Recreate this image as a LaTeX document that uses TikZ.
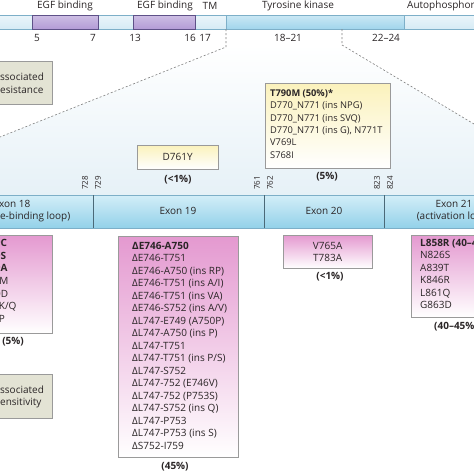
\documentclass[tikz,border=0pt]{standalone}
\usepackage{fontspec}
\setmainfont{Open Sans}
\usepackage{tikz}
\usetikzlibrary{positioning}
\definecolor{barpale}{HTML}{D6EBF5}
\definecolor{barline}{HTML}{7DAFC8}
\definecolor{kinase}{HTML}{A1D5EC}
\definecolor{egfpurple}{HTML}{B39CD6}
\definecolor{egfline}{HTML}{5E5188}
\definecolor{exontop}{HTML}{D3EEF8}
\definecolor{exonmid}{HTML}{93D1E9}
\definecolor{mutpink}{HTML}{E499D0}
\definecolor{mutyellow}{HTML}{FBF2BC}
\definecolor{assocgray}{HTML}{E3E3D4}
\definecolor{boxline}{HTML}{9A9A9A}
\definecolor{ink}{HTML}{2A2526}
\definecolor{wedgeblue}{HTML}{E6F1F7}
\tikzset{
  lbl/.style={font=\fontsize{10}{12}\selectfont, text=ink, inner sep=0pt},
  boldlbl/.style={font=\fontsize{10}{12}\selectfont\bfseries, text=ink, inner sep=0pt},
  resid/.style={font=\fontsize{8}{9}\selectfont, text=ink, rotate=90, inner sep=0pt},
  mutlist/.style={font=\fontsize{10}{12.5}\selectfont, text=ink, align=left, inner sep=0pt, anchor=north west},
  pinkbox/.style={draw=boxline, top color=mutpink, bottom color=white, anchor=north west, inner sep=0pt},
  yellowbox/.style={draw=boxline, top color=mutyellow, bottom color=white, anchor=north west, inner sep=0pt},
  graybox/.style={draw=boxline, fill=assocgray, anchor=north west, inner sep=0pt},
  guide/.style={gray, line width=0.6pt, dash pattern=on 2pt off 2pt},
}
\begin{document}
\begin{tikzpicture}[x=1pt,y=-1pt]
    \useasboundingbox (0,0) rectangle (474,474);
    \clip (0,0) rectangle (474,474);
    \fill[white] (0,0) rectangle (474,474);
    \shade[top color=white, bottom color=wedgeblue] (0,137) -- (226,47) -- (342,45) -- (474,124) -- (474,195) -- (0,195) -- cycle;

    \shade[top color=barpale!50!white, bottom color=barpale, draw=barline] (-2,15) rectangle (476,29);
    \shade[top color=egfpurple!65!white, bottom color=egfpurple, draw=egfline] (32,15) rectangle (98,29);
    \shade[top color=egfpurple!65!white, bottom color=egfpurple, draw=egfline] (133,15) rectangle (195,29);
    \shade[top color=kinase!55!white, bottom color=kinase, draw=barline] (226,15) rectangle (404,29);
    \node[lbl] (egfa) at (65,6) {EGF binding};
    \node[lbl] (egfb) at (165,6) {EGF binding};
    \node[lbl] (tm) at (210,6) {TM};
    \node[lbl] (tk) at (298,6) {Tyrosine kinase};
    \node[lbl, anchor=west] (autoph) at (407,6) {Autophosphorylation};
    \node[lbl] (ex5) at (37,38) {5};
    \node[lbl] (ex7) at (93,38) {7};
    \node[lbl] (ex13) at (135,38) {13};
    \node[lbl] (ex16) at (190,38) {16};
    \node[lbl] (ex17) at (205,38) {17};
    \node[lbl] (ex1821) at (288,38) {18–21};
    \node[lbl] (ex2224) at (386,38) {22–24};

    \coordinate (tkleft) at (226,29);
    \coordinate (tkright) at (342,29);
    \coordinate (zoomleft) at (0,137);
    \coordinate (zoomright) at (474,124);
    \draw[guide] (tkleft) -- ++(0,18) -- (zoomleft);
    \draw[guide] (tkright) -- ++(0,16) -- (zoomright);

    \node[graybox, minimum width=56pt, minimum height=43pt] (resist) at (-4,61) {};
    \node[lbl, anchor=west] (resista) at (0,77) {ssociated};
    \node[lbl, anchor=west] (resistb) at (0,90) {esistance};
    \node[graybox, minimum width=56pt, minimum height=44pt] (sensit) at (-4,374) {};
    \node[lbl, anchor=west] (sensita) at (0,390) {ssociated};
    \node[lbl, anchor=west] (sensitb) at (0,403) {ensitivity};

    \node[yellowbox, minimum width=81pt, minimum height=24pt] (d761box) at (137,145) {};
    \node[lbl] (d761) at (d761box.center) {D761Y};
    \node[boldlbl] (d761pc) at (178,180) {(<1\%)};
    \node[yellowbox, minimum width=125pt, minimum height=85pt] (t790box) at (265,83) {};
    \node[mutlist, font=\fontsize{9.3}{12.4}\selectfont] (t790) at (270,89) {\textbf{T790M (50\%)*}\\D770\_N771 (ins NPG)\\D770\_N771 (ins SVQ)\\D770\_N771 (ins G), N771T\\V769L\\S768I};
    \node[boldlbl] (t790pc) at (327,177) {(5\%)};

    \shade[top color=exontop, bottom color=exonmid, draw=barline] (-2,195) rectangle (476,228);
    \draw[barline!60!black] (93,195) -- (93,228);
    \draw[barline!60!black] (264,195) -- (264,228);
    \draw[barline!60!black] (384,195) -- (384,228);
    \node[lbl, align=center] (exon18) at (12,211) {Exon 18\\(nucleotide-binding loop)};
    \node[lbl] (exon19) at (178,211) {Exon 19};
    \node[lbl] (exon20) at (324,211) {Exon 20};
    \node[lbl, align=center] (exon21) at (454,211) {Exon 21\\(activation loop)};
    \node[resid] (r728) at (85,183) {728};
    \node[resid] (r729) at (98,183) {729};
    \node[resid] (r761) at (257,183) {761};
    \node[resid] (r762) at (270,183) {762};
    \node[resid] (r823) at (377,183) {823};
    \node[resid] (r824) at (390,183) {824};

    \node[pinkbox, minimum width=56pt, minimum height=98pt] (e18box) at (-4,235) {};
    \node[mutlist, font=\fontsize{10}{12.7}\selectfont] (e18) at (-24,239) {\textbf{G719C}\\\textbf{G719S}\\\textbf{G719A}\\V689M\\N700D\\E709K/Q\\S720P};
    \node[boldlbl] (e18pc) at (13,342) {(5\%)};
    \node[pinkbox, minimum width=120pt, minimum height=221pt] (e19box) at (118,236) {};
    \node[mutlist] (e19) at (132,242) {\textbf{ΔE746-A750}\\ΔE746-T751\\ΔE746-A750 (ins RP)\\ΔE746-T751 (ins A/I)\\ΔE746-T751 (ins VA)\\ΔE746-S752 (ins A/V)\\ΔL747-E749 (A750P)\\ΔL747-A750 (ins P)\\ΔL747-T751\\ΔL747-T751 (ins P/S)\\ΔL747-S752\\ΔL747-752 (E746V)\\ΔL747-752 (P753S)\\ΔL747-S752 (ins Q)\\ΔL747-P753\\ΔL747-P753 (ins S)\\ΔS752-I759};
    \node[boldlbl] (e19pc) at (175,467) {(45\%)};
    \node[pinkbox, minimum width=89pt, minimum height=33pt] (e20box) at (283,235) {};
    \node[lbl, align=center, font=\fontsize{10}{12.5}\selectfont] (e20) at (e20box.center) {V765A\\T783A};
    \node[boldlbl] (e20pc) at (330,277) {(<1\%)};
    \node[pinkbox, minimum width=70pt, minimum height=82pt] (e21box) at (411,235) {};
    \node[mutlist] (e21) at (420,239) {\textbf{L858R (40–45\%)}\\N826S\\A839T\\K846R\\L861Q\\G863D};
    \node[boldlbl, anchor=west] (e21pc) at (434,327) {(40–45\%)};
\end{tikzpicture}
\end{document}
